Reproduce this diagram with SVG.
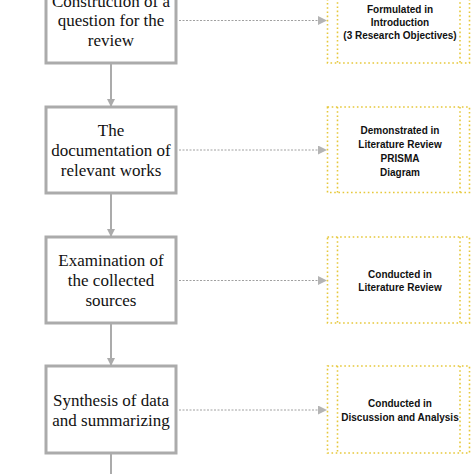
<svg xmlns="http://www.w3.org/2000/svg" width="474" height="474" viewBox="0 0 474 474">
<style>
.box{fill:#fff;stroke:#ababab;stroke-width:3}
.lt{font-family:"Liberation Serif",serif;font-size:17px;fill:#111;text-anchor:middle}
.rb{fill:#fff;stroke:#e6c83a;stroke-width:1.6;stroke-dasharray:1.6 2.6}
.rt{font-family:"Liberation Sans",Arial,sans-serif;font-size:10px;font-weight:bold;fill:#111;text-anchor:middle}
.v{stroke:#ababab;stroke-width:2;fill:none}
.d{stroke:#a0a0a0;stroke-width:1;stroke-dasharray:2 1.5;fill:none}
</style>
<defs>
<marker id="ah" markerWidth="8" markerHeight="8" refX="7" refY="4" orient="auto" markerUnits="userSpaceOnUse">
<path d="M0,0 L8,4 L0,8 Z" fill="#ababab"/>
</marker>
<marker id="ahd" markerWidth="9" markerHeight="9" refX="8" refY="4.5" orient="auto" markerUnits="userSpaceOnUse">
<path d="M0,0 L9,4.5 L0,9 Z" fill="#b4b4b4"/>
</marker>
</defs>
<rect width="474" height="474" fill="#fff"/>
<g id="connectors">
<line class="v" x1="111" y1="63" x2="111" y2="106" marker-end="url(#ah)"/>
<line class="v" x1="111" y1="193" x2="111" y2="236" marker-end="url(#ah)"/>
<line class="v" x1="111" y1="323" x2="111" y2="365" marker-end="url(#ah)"/>
<line class="v" x1="111" y1="453" x2="111" y2="474"/>
<line class="d" x1="179" y1="20.5" x2="326" y2="20.5" marker-end="url(#ahd)"/>
<line class="d" x1="179" y1="150" x2="326" y2="150" marker-end="url(#ahd)"/>
<line class="d" x1="179" y1="280.5" x2="326" y2="280.5" marker-end="url(#ahd)"/>
<line class="d" x1="179" y1="410" x2="326" y2="410" marker-end="url(#ahd)"/>
</g>
<g id="step1">
<rect class="box" x="46" y="-23" width="130" height="86"/>
<text class="lt" x="111" y="7">Construction of a</text>
<text class="lt" x="111" y="26">question for the</text>
<text class="lt" x="111" y="46">review</text>
</g>
<g id="step2">
<rect class="box" x="46" y="107" width="130" height="86"/>
<text class="lt" x="111" y="136">The</text>
<text class="lt" x="111" y="156">documentation of</text>
<text class="lt" x="111" y="176">relevant works</text>
</g>
<g id="step3">
<rect class="box" x="46" y="237" width="130" height="86"/>
<text class="lt" x="111" y="266">Examination of</text>
<text class="lt" x="111" y="286">the collected</text>
<text class="lt" x="111" y="306">sources</text>
</g>
<g id="step4">
<rect class="box" x="46" y="366" width="130" height="87"/>
<text class="lt" x="111" y="406">Synthesis of data</text>
<text class="lt" x="111" y="426">and summarizing</text>
</g>
<g id="note1">
<rect class="rb" x="327.5" y="-23" width="142" height="86"/>
<line class="rb" x1="337.5" y1="-23" x2="337.5" y2="63"/>
<line class="rb" x1="460" y1="-23" x2="460" y2="63"/>
<text class="rt" x="400" y="12.5">Formulated in</text>
<text class="rt" x="400" y="25.5">Introduction</text>
<text class="rt" x="400" y="39">(3 Research Objectives)</text>
</g>
<g id="note2">
<rect class="rb" x="327.5" y="107" width="142" height="85.5"/>
<line class="rb" x1="337.5" y1="107" x2="337.5" y2="192.5"/>
<line class="rb" x1="460" y1="107" x2="460" y2="192.5"/>
<text class="rt" x="400" y="133.5">Demonstrated in</text>
<text class="rt" x="400" y="147.5">Literature Review</text>
<text class="rt" x="400" y="161.5">PRISMA</text>
<text class="rt" x="400" y="175.5">Diagram</text>
</g>
<g id="note3">
<rect class="rb" x="327.5" y="237" width="142" height="86"/>
<line class="rb" x1="337.5" y1="237" x2="337.5" y2="323"/>
<line class="rb" x1="460" y1="237" x2="460" y2="323"/>
<text class="rt" x="400" y="277.5">Conducted in</text>
<text class="rt" x="400" y="291">Literature Review</text>
</g>
<g id="note4">
<rect class="rb" x="327.5" y="366" width="142" height="87"/>
<line class="rb" x1="337.5" y1="366" x2="337.5" y2="453"/>
<line class="rb" x1="460" y1="366" x2="460" y2="453"/>
<text class="rt" x="400" y="406.5">Conducted in</text>
<text class="rt" x="400" y="421">Discussion and Analysis</text>
</g>
</svg>
